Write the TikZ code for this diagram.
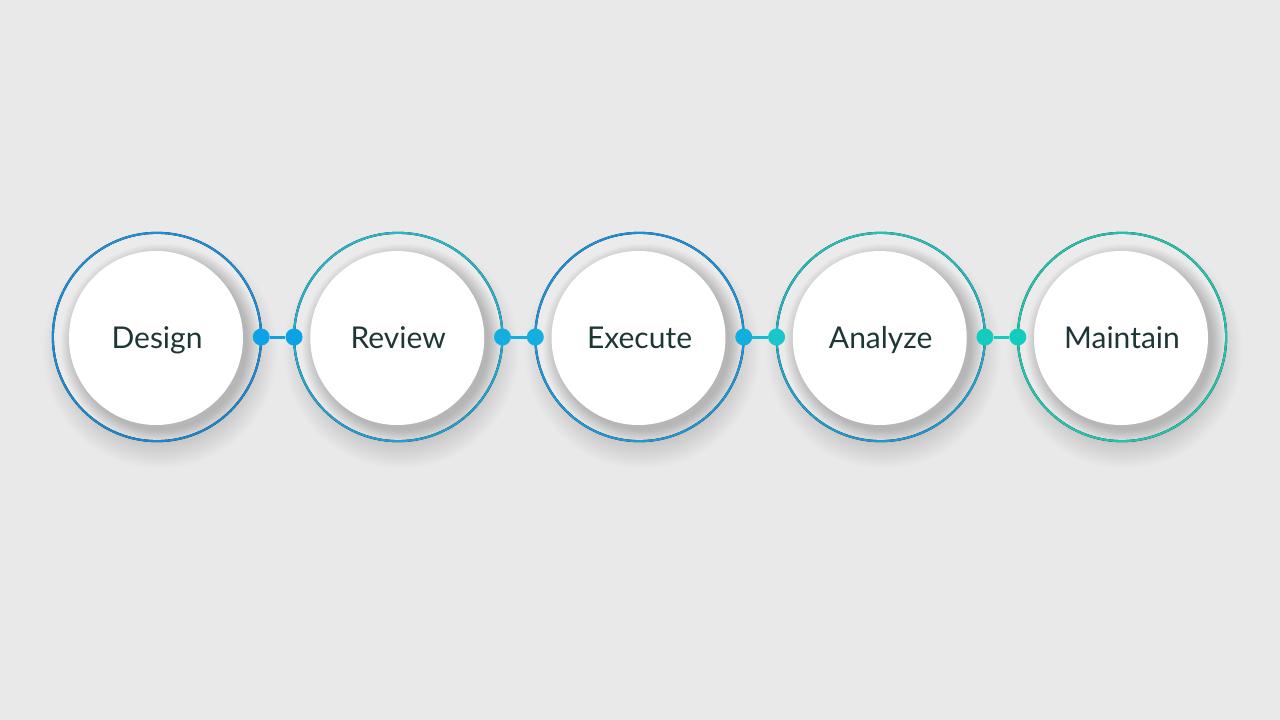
\documentclass[tikz,border=0pt]{standalone}
\usepackage{fontspec}
\setmainfont{Lato}
\definecolor{bg}{HTML}{E9E9E9}
\definecolor{annulus}{HTML}{EBEBEB}
\definecolor{txt}{HTML}{1F3636}
\definecolor{r1t}{HTML}{1C8ED8}\definecolor{r1b}{HTML}{1A86D0}
\definecolor{r2t}{HTML}{26B8C8}\definecolor{r2b}{HTML}{1E9ED2}
\definecolor{r3t}{HTML}{1A8ED8}\definecolor{r3b}{HTML}{1C98D8}
\definecolor{r4t}{HTML}{22C2B8}\definecolor{r4b}{HTML}{1E96D6}
\definecolor{r5t}{HTML}{20C2AA}\definecolor{r5b}{HTML}{1EC6B0}
\definecolor{d1}{HTML}{0BA2E6}
\definecolor{d2}{HTML}{14AEE0}
\definecolor{d3a}{HTML}{12AEE0}\definecolor{d3b}{HTML}{19C6C9}
\definecolor{d4}{HTML}{12CDBE}
\tikzset{
  ringnode/.style={circle,minimum size=208pt,inner sep=0pt},
  labeltext/.style={text=txt,font=\fontsize{30}{36}\selectfont,inner sep=0pt,anchor=base},
  dotnode/.style={circle,minimum size=17pt,inner sep=0pt},
  conn/.style={line width=3pt}
}
\begin{document}
\begin{tikzpicture}[x=1pt,y=-1pt]
\fill[bg] (0,0) rectangle (1280,720);
\useasboundingbox (0,0) rectangle (1280,720);
\foreach \i/\lab/\ct/\cb in {1/Design/r1t/r1b,2/Review/r2t/r2b,3/Execute/r3t/r3b,4/Analyze/r4t/r4b,5/Maintain/r5t/r5b}{
  \pgfmathsetmacro\cx{157+241.25*(\i-1)}
  % soft outer shadow
  \foreach \k in {0,...,16}{
    \fill[black,opacity=0.006] (\cx+3,351) circle ({92+1.6*\k});
  }
  \fill[annulus] (\cx,337) circle (103.5);
  % shadow of the white disk
  \begin{scope}
    \clip (\cx,337) circle (103.5);
    \foreach \k in {0,...,13}{
      \fill[black,opacity=0.015] (\cx+4,344) circle ({86+1.1*\k});
    }
  \end{scope}
  \fill[white] (\cx-1,338) circle (87);
  % ring
  \fill[top color=\ct,bottom color=\cb,even odd rule]
    (\cx,337) circle (105.2) (\cx,337) circle (103.1);
  \node[ringnode] (c\i) at (\cx,337) {};
  \node[labeltext] (t\i) at (\cx,348.5) {\lab};
}
% connectors
\node[dotnode,fill=d1] (e1) at (c1.east) {};
\node[dotnode,fill=d1] (w2) at (c2.west) {};
\node[dotnode,fill=d2] (e2) at (c2.east) {};
\node[dotnode,fill=d2] (w3) at (c3.west) {};
\node[dotnode,fill=d3a] (e3) at (c3.east) {};
\node[dotnode,fill=d3b] (w4) at (c4.west) {};
\node[dotnode,fill=d4] (e4) at (c4.east) {};
\node[dotnode,fill=d4] (w5) at (c5.west) {};
\draw[conn,d1] (e1) -- (w2);
\draw[conn,d2] (e2) -- (w3);
\draw[conn,d3a!50!d3b] (e3) -- (w4);
\draw[conn,d4] (e4) -- (w5);
\end{tikzpicture}
\end{document}
